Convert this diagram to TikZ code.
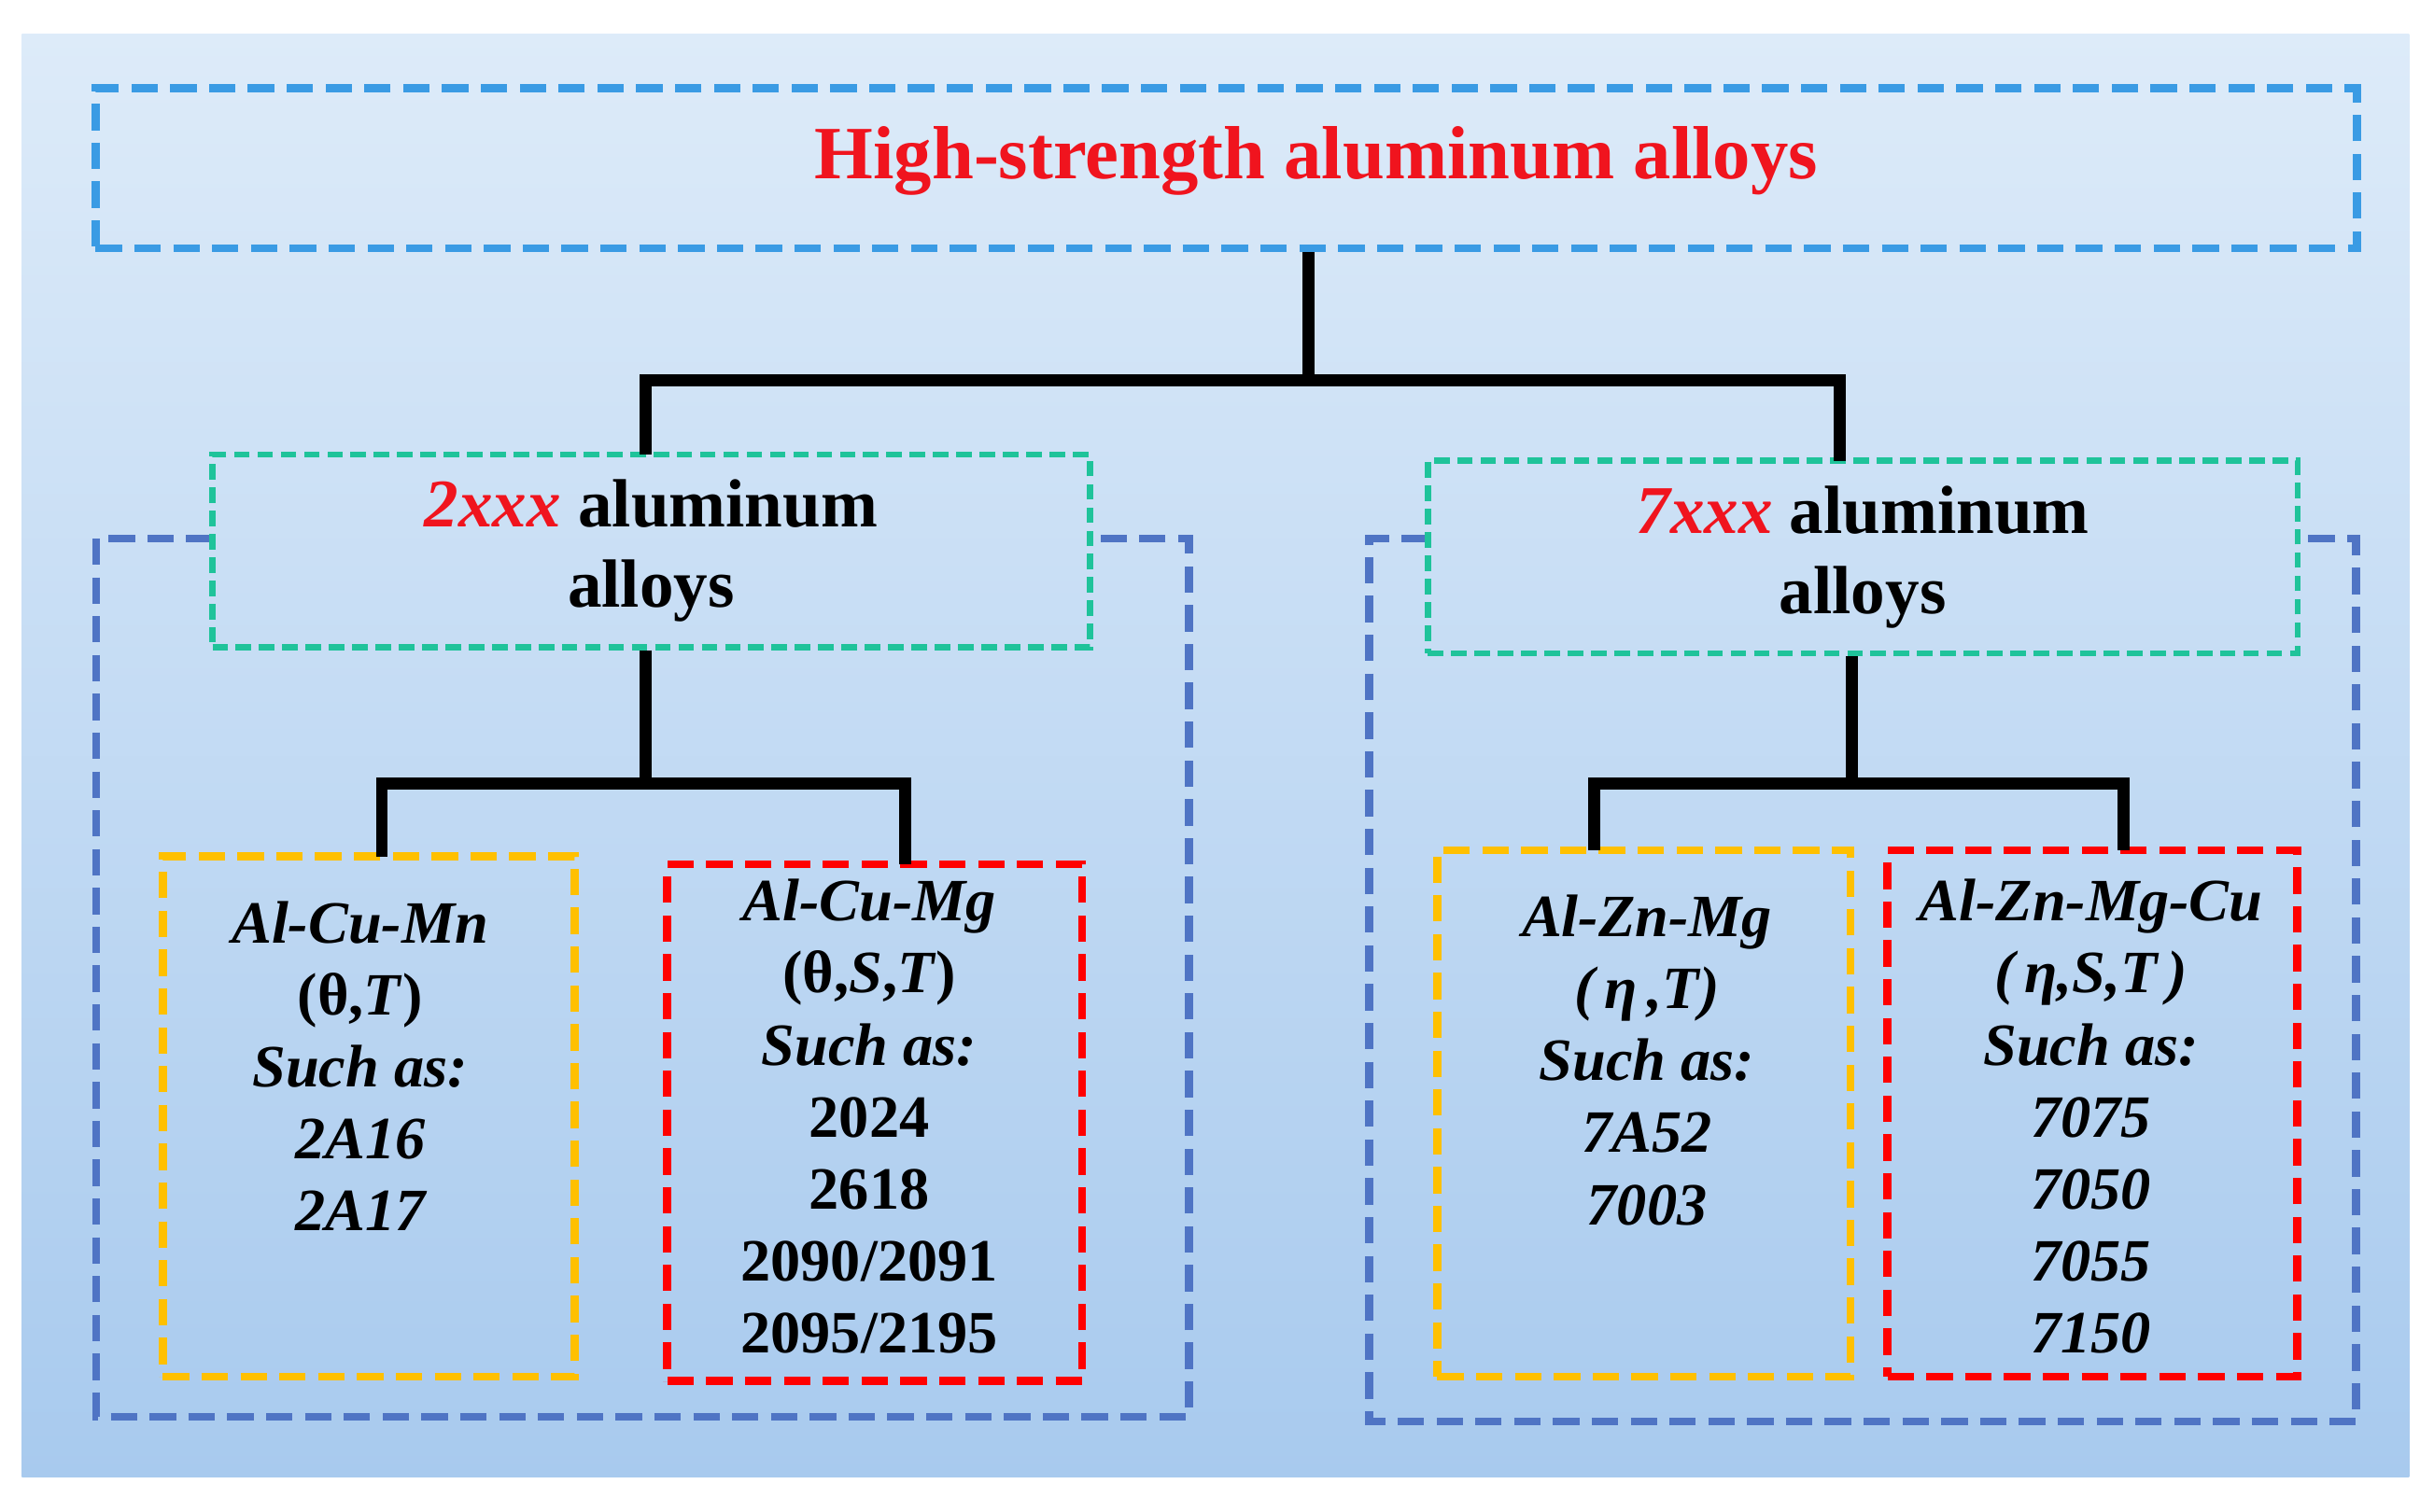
\documentclass[tikz,border=0pt]{standalone}
\usepackage{fontspec}
\setmainfont{Liberation Serif}
\begin{document}
\begin{tikzpicture}[x=0.01cm,y=-0.01cm,
  dbox/.style={draw=#1,line width=1.5pt,dash pattern=on 0.17cm off 0.08cm,inner sep=0},
  sdash/.style={draw=#1,line width=1.1pt,dash pattern=on 0.1cm off 0.05cm},
  conn/.style={line width=2.2pt,black},
  txt/.style={align=center,font=\fontsize{11}{13.2}\selectfont\bfseries,anchor=north,inner sep=0}]
\definecolor{bgtop}{HTML}{DDEBF9}\definecolor{bgbot}{HTML}{A8CAEE}
\definecolor{tblue}{HTML}{3A9BE4}\definecolor{gblue}{HTML}{4F74C4}
\definecolor{tgreen}{HTML}{1FC39A}\definecolor{tyel}{HTML}{FFC000}
\definecolor{tred}{HTML}{FF0000}\definecolor{rtxt}{HTML}{F0141E}
\useasboundingbox (0,0) rectangle (1568,974);
\fill[white] (0,0) rectangle (1568,974);
\shade[top color=bgtop,bottom color=bgbot] (14,22) rectangle (1552,952);
% title
\node[dbox=tblue,minimum width=14.56cm,minimum height=1.03cm] (title) at (790,108.5) {};
\node[inner sep=0,font=\fontsize{13.8}{16}\selectfont\bfseries,text=rtxt] (tt) at (848,104) {High-strength aluminum alloys};
% outer groups
\draw[dbox=gblue] (137,347) -- (62,347) -- (62,913) -- (766,913) -- (766,347) -- (702,347);
\draw[dbox=gblue] (920,347) -- (882,347) -- (882,916) -- (1518,916) -- (1518,347) -- (1480,347);
% green boxes
\node[sdash=tgreen,minimum width=5.65cm,minimum height=1.24cm,align=center,
  font=\fontsize{12.5}{14.8}\selectfont\bfseries] (g2) at (419.5,355)
  {\textit{\color{rtxt}2xxx} aluminum\\alloys};
\node[sdash=tgreen,minimum width=5.6cm,minimum height=1.24cm,align=center,
  font=\fontsize{12.5}{14.8}\selectfont\bfseries] (g7) at (1200,359)
  {\textit{\color{rtxt}7xxx} aluminum\\alloys};
% leaf boxes
\node[dbox=tyel,minimum width=2.65cm,minimum height=3.35cm] (a) at (237.5,719.5) {};
\node[dbox=tred,minimum width=2.67cm,minimum height=3.33cm] (b) at (563.5,723.5) {};
\node[dbox=tyel,minimum width=2.66cm,minimum height=3.39cm] (c) at (1059,717.5) {};
\node[dbox=tred,minimum width=2.64cm,minimum height=3.39cm] (d) at (1348,717.5) {};
% texts
\node[txt] (ta) at (232,580) {\itshape Al-Cu-Mn\\(θ,\textit{T})\\\itshape Such as:\\\itshape 2A16\\\itshape 2A17};
\node[txt] (tb) at (560,566) {\itshape Al-Cu-Mg\\(θ,\textit{S},\textit{T})\\\itshape Such as:\\2024\\2618\\2090/2091\\2095/2195};
\node[txt] (tc) at (1061,576) {\itshape Al-Zn-Mg\\\itshape (\,η\,,T)\\\itshape Such as:\\\itshape 7A52\\\itshape 7003};
\node[txt] (td) at (1347,566) {\itshape Al-Zn-Mg-Cu\\\itshape (\,η,S,T\,)\\\itshape Such as:\\\itshape 7075\\\itshape 7050\\\itshape 7055\\\itshape 7150};
% connectors
\coordinate (j1) at (843,245);
\draw[conn] (title.south -| j1) -- (j1);
\draw[conn] (j1) -| (416,293);
\draw[conn] (j1) -| (1185,297);
\coordinate (j2) at (416,505);
\draw[conn] (g2.south -| j2) -- (j2);
\draw[conn] (j2) -| (246,552);
\draw[conn] (j2) -| (583,557);
\coordinate (j3) at (1193,505);
\draw[conn] (g7.south -| j3) -- (j3);
\draw[conn] (j3) -| (1027,548);
\draw[conn] (j3) -| (1368,548);
\end{tikzpicture}
\end{document}
